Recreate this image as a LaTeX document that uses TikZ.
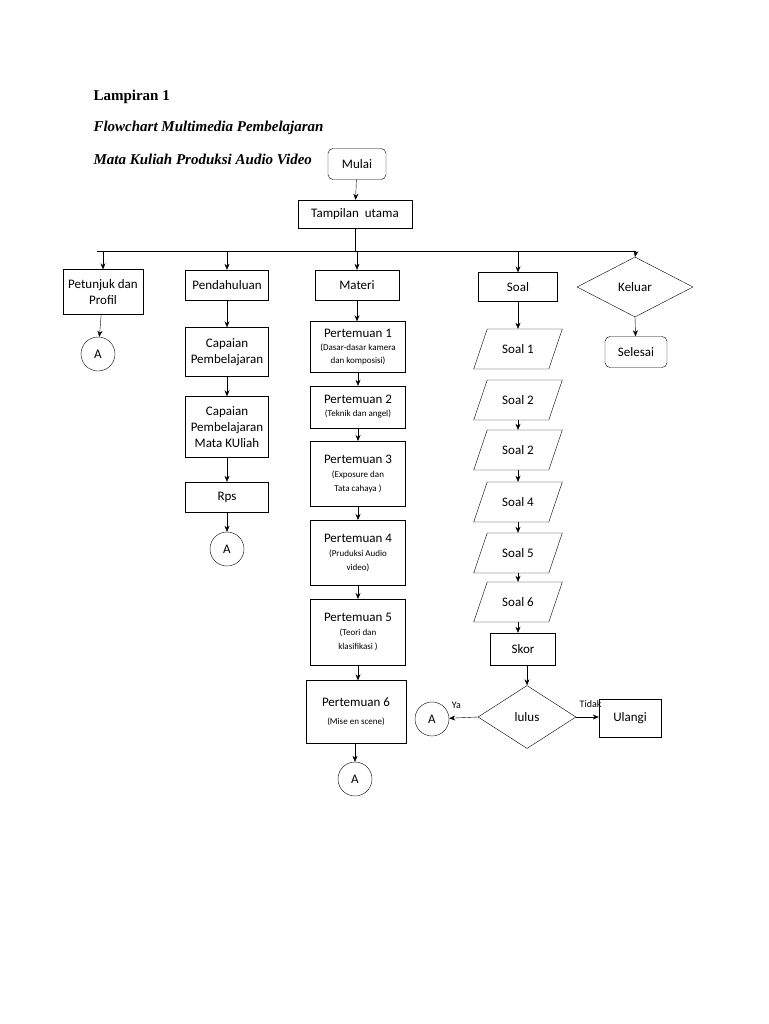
\documentclass[tikz,border=0pt]{standalone}
\usepackage{fontspec}
\setmainfont{Liberation Serif}
\newfontfamily\boxfont{Carlito}
\usetikzlibrary{shapes.geometric,arrows.meta,positioning}

\begin{document}
\begin{tikzpicture}[x=1pt,y=-1pt,>={Stealth[length=6pt,width=5pt]},thin,
	   every node/.style={font=\boxfont\fontsize{13}{16}\selectfont},
	   proc/.style 2 args = {rectangle, draw, minimum width=#1, minimum height=#2,
	                         align=center, inner sep=1pt},
	   term/.style = {proc={58}{31}, rounded corners=5pt},
	   soalbox/.style = {trapezium, draw, trapezium left angle=62, trapezium right angle=118,
	                     minimum width=89, minimum height=40, trapezium stretches=true},
	   choice/.style 2 args = {diamond, draw, minimum width=#1, minimum height=#2, aspect=1.6},
	   conn/.style = {circle, draw, minimum size=34, inner sep=0pt},
	   small/.style = {font=\boxfont\fontsize{9}{13}\selectfont},
	   title/.style = {anchor=west, font=\bfseries\fontsize{15}{18}\selectfont}]
	\useasboundingbox (0,0) rectangle (768,1024);
	%% Titles
	\node [title] (lamp) at (90,97) {Lampiran 1};
	\node [title, font=\bfseries\itshape\fontsize{15}{18}\selectfont] (flow) at (90,128) {Flowchart Multimedia Pembelajaran};
	\node [title, font=\bfseries\itshape\fontsize{15}{18}\selectfont] (mk) at (90,159) {Mata Kuliah Produksi Audio Video};

	%% Start
	\node [term] (mulai) at (357,164) {Mulai};
	\node [proc={114}{28}] (tampil) at (355,214) {Tampilan\ \ utama};
	\coordinate (bus) at (355,251);
	\coordinate (busl) at (97,251);
	\coordinate (busr) at (636,251);

	%% Menu
	\node [proc={80}{45}] (petunjuk) at (103,292) {Petunjuk dan\\Profil};
	\node [proc={83}{30}] (pendah) at (227,285) {Pendahuluan};
	\node [proc={84}{30}] (materi) at (357,285) {Materi};
	\node [proc={79}{29}] (soal) at (518,287) {Soal};
	\node [choice={116}{60}] (keluar) at (635,287) {Keluar};

	%% Petunjuk / Pendahuluan
	\node [conn] (a1) at (98,354) {A};
	\node [proc={83}{49}] (cp) at (227,352) {Capaian\\Pembelajaran};
	\node [proc={83}{61}] (cpmk) at (227,427) {Capaian\\Pembelajaran\\Mata KUliah};
	\node [proc={83}{30}] (rps) at (227,497) {Rps};
	\node [conn] (a2) at (227,549) {A};

	%% Materi
	\node [proc={95}{51}] (p1) at (358,347) {Pertemuan 1\\[-3pt]{\small (Dasar-dasar kamera}\\[-3pt]{\small dan komposisi)}};
	\node [proc={95}{42}] (p2) at (358,407) {Pertemuan 2\\[-3pt]{\small (Teknik dan angel)}};
	\node [proc={95}{65}, anchor=north] (p3) at (358,441) {Pertemuan 3\\[-2pt]{\small (Exposure dan}\\[-2pt]{\small Tata cahaya )}};
	\node [proc={95}{65}, anchor=north] (p4) at (358,520) {Pertemuan 4\\[-2pt]{\small (Pruduksi Audio}\\[-2pt]{\small video)}};
	\node [proc={95}{66}, anchor=north] (p5) at (358,599) {Pertemuan 5\\[-2pt]{\small (Teori dan}\\[-2pt]{\small klasifikasi )}};
	\node [proc={100}{63}] (p6) at (356,712) {Pertemuan 6\\[2pt]{\small (Mise en scene)}};
	\node [conn] (a3) at (355,779) {A};

	%% Soal
	\node [soalbox] (s1) at (518,349) {Soal 1};
	\node [soalbox] (s2) at (518,400) {Soal 2};
	\node [soalbox] (s3) at (518,450) {Soal 2};
	\node [soalbox] (s4) at (518,502) {Soal 4};
	\node [soalbox] (s5) at (518,553) {Soal 5};
	\node [soalbox] (s6) at (518,602) {Soal 6};
	\node [proc={65}{32}] (skor) at (523,649) {Skor};
	\node [choice={98}{63}] (lulus) at (527,717) {lulus};
	\node [conn] (a4) at (432,719) {A};
	\node [proc={62}{38}] (ulangi) at (630,718) {Ulangi};

	%% Keluar
	\node [term, minimum width=62] (selesai) at (636,352) {Selesai};

	%% Paths
	\draw[->] (mulai) -- (tampil);
	\draw (tampil) -- (bus);
	\draw (busl) -- (busr);
	\foreach \n in {petunjuk,pendah,materi,soal}
		\draw[->] (\n.north|-bus) -- (\n.north);
	\draw[->] (busr) -- (keluar.north);
	\draw[->] (petunjuk) -- (a1);
	\draw[->] (pendah) -- (cp);
	\draw[->] (cp) -- (cpmk);
	\draw[->] (cpmk) -- (rps);
	\draw[->] (rps) -- (a2);
	\draw[->] (materi.south) -- (p1.north-|materi.south);
	\draw[->] (p1) -- (p2);
	\draw[->] (p2) -- (p3);
	\draw[->] (p3) -- (p4);
	\draw[->] (p4) -- (p5);
	\draw[->] (p5.south) -- (p6.north-|p5.south);
	\draw[->] (p6.south-|a3) -- (a3);
	\draw[->] (soal) -- (s1);
	\draw[->] (s2.south) -- (s3.north);
	\draw[->] (s3.south) -- (s4.north);
	\draw[->] (s4.south) -- (s5.north);
	\draw[->] (s5.south) -- (s6.north);
	\draw[->] (s6.south) -- (skor.north-|s6.south);
	\draw[->] (skor.south-|lulus.north) -- (lulus.north);
	\draw[->] (lulus.west) -- (a4)
	          node[above=6pt, near end, font=\boxfont\fontsize{10}{12}\selectfont] {Ya};
	\draw[->] (lulus.east) -- (ulangi.west|-lulus.east)
	          node[above=6pt, at start, anchor=south west, font=\boxfont\fontsize{10}{12}\selectfont] {Tidak};
	\draw[->] (keluar.south) -- (selesai);
\end{tikzpicture}
\end{document}
